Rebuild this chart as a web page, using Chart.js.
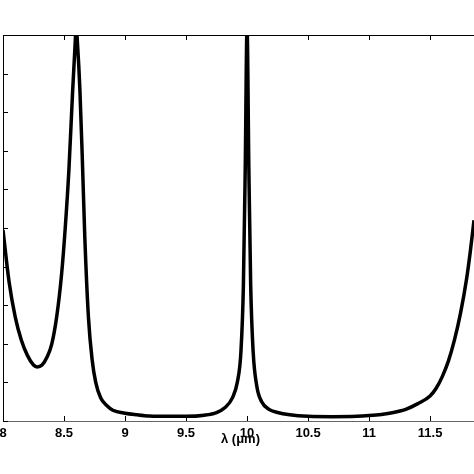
<!DOCTYPE html><html><head><script src="https://cdn.jsdelivr.net/npm/chart.js@4"></script>
<style>body{margin:0;background:#fff}#w{width:474px;height:474px}</style></head><body><div id="w"><canvas id="c"></canvas></div>
<script>
const xVals=[8.0,8.05,8.1,8.15,8.2,8.25,8.28,8.32,8.36,8.4,8.44,8.48,8.51,8.54,8.57,8.59,8.6,8.61,8.63,8.65,8.67,8.7,8.73,8.76,8.8,8.85,8.9,9.0,9.1,9.2,9.35,9.5,9.65,9.75,9.82,9.88,9.92,9.95,9.97,9.985,10.0,10.015,10.03,10.05,10.08,10.12,10.18,10.25,10.35,10.5,10.7,10.9,11.0,11.1,11.2,11.3,11.4,11.5,11.55,11.6,11.65,11.7,11.75,11.8,11.83,11.86];
const yVals=[0.495,0.36,0.27,0.21,0.17,0.145,0.14,0.145,0.165,0.2,0.27,0.38,0.5,0.65,0.85,0.97,1.02,0.98,0.86,0.68,0.48,0.27,0.16,0.1,0.06,0.04,0.028,0.02,0.016,0.013,0.012,0.012,0.015,0.022,0.035,0.06,0.1,0.18,0.35,0.65,1.02,0.65,0.35,0.18,0.09,0.05,0.03,0.022,0.016,0.012,0.011,0.012,0.014,0.017,0.022,0.03,0.045,0.065,0.085,0.115,0.155,0.21,0.28,0.37,0.44,0.52];
const xTicks=[8,8.5,9,9.5,10,10.5,11,11.5];
const yTicks=[0,0.1,0.2,0.3,0.4,0.5,0.6,0.7,0.8,0.9,1.0];
const xLabel='λ (μm)';
const axes={id:'axes',afterDraw(ch){const c=ch.ctx,a=ch.chartArea,xs=ch.scales.x,ys=ch.scales.y;c.save();c.strokeStyle='#000';c.lineWidth=1;
c.beginPath();c.moveTo(a.left+0.5,a.top+0.5);c.lineTo(a.right,a.top+0.5);c.moveTo(a.left+0.5,a.top);c.lineTo(a.left+0.5,a.bottom);c.stroke();
c.strokeStyle='#666';c.beginPath();c.moveTo(a.left,a.bottom+0.5);c.lineTo(a.right,a.bottom+0.5);c.stroke();
c.strokeStyle='#000';c.beginPath();
xTicks.forEach(t=>{const p=Math.round(xs.getPixelForValue(t))+0.5;c.moveTo(p,a.bottom);c.lineTo(p,a.bottom-5);c.moveTo(p,a.top);c.lineTo(p,a.top+5);});
yTicks.forEach(t=>{const p=Math.round(ys.getPixelForValue(t))+0.5;c.moveTo(a.left,p);c.lineTo(a.left+5,p);});c.stroke();
c.fillStyle='#000';c.font='bold 13px Liberation Sans, Arial';c.textAlign='center';c.textBaseline='top';
xTicks.forEach(t=>c.fillText(String(t),xs.getPixelForValue(t),a.bottom+6));
c.fillText(xLabel,(a.left+a.right)/2+2,a.bottom+12);c.restore();}};
new Chart(document.getElementById('c'),{type:'line',data:{datasets:[{data:xVals.map((x,i)=>({x,y:yVals[i]})),borderColor:'#000',borderWidth:3.5,pointRadius:0,tension:0.4,cubicInterpolationMode:'monotone',fill:false}]},
options:{responsive:true,maintainAspectRatio:false,animation:false,layout:{padding:{left:3,top:35,right:0,bottom:53}},
plugins:{legend:{display:false},tooltip:{enabled:false}},
scales:{x:{type:'linear',min:8,max:11.86,display:false},y:{min:0,max:1,display:false}}},plugins:[axes]});
</script></body></html>
